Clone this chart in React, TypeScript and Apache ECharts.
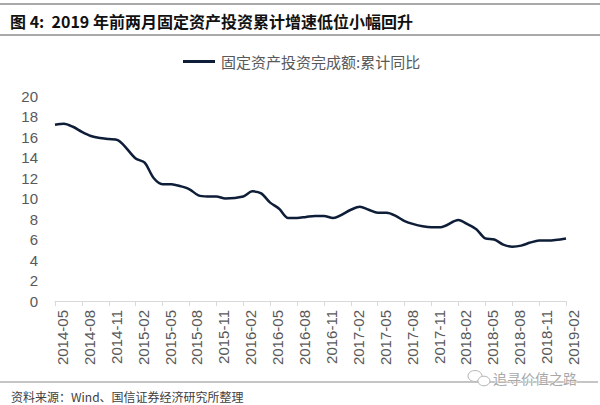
import React, { useEffect, useRef } from "react";
import * as echarts from "echarts";

const TITLE = "图 4:  2019 年前两月固定资产投资累计增速低位小幅回升";
const SERIES_NAME = "固定资产投资完成额:累计同比";
const SOURCE = "资料来源：Wind、国信证券经济研究所整理";
const WATERMARK = "追寻价值之路";

const months = [
  "2014-05", "2014-06", "2014-07", "2014-08", "2014-09", "2014-10", "2014-11", "2014-12",
  "2015-01", "2015-02", "2015-03", "2015-04", "2015-05", "2015-06", "2015-07", "2015-08", "2015-09", "2015-10", "2015-11", "2015-12",
  "2016-01", "2016-02", "2016-03", "2016-04", "2016-05", "2016-06", "2016-07", "2016-08", "2016-09", "2016-10", "2016-11", "2016-12",
  "2017-01", "2017-02", "2017-03", "2017-04", "2017-05", "2017-06", "2017-07", "2017-08", "2017-09", "2017-10", "2017-11", "2017-12",
  "2018-01", "2018-02", "2018-03", "2018-04", "2018-05", "2018-06", "2018-07", "2018-08", "2018-09", "2018-10", "2018-11", "2018-12",
  "2019-01", "2019-02",
];

// January has no separate release (Jan–Feb combined), so it is null
const faiYoY: (number | null)[] = [
  17.2, 17.3, 17.0, 16.5, 16.1, 15.9, 15.8, 15.7,
  null, 13.9, 13.5, 12.0, 11.4, 11.4, 11.2, 10.9, 10.3, 10.2, 10.2, 10.0,
  null, 10.2, 10.7, 10.5, 9.6, 9.0, 8.1, 8.1, 8.2, 8.3, 8.3, 8.1,
  null, 8.9, 9.2, 8.9, 8.6, 8.6, 8.3, 7.8, 7.5, 7.3, 7.2, 7.2,
  null, 7.9, 7.5, 7.0, 6.1, 6.0, 5.5, 5.3, 5.4, 5.7, 5.9, 5.9,
  null, 6.1,
];

const yMin = 0;
const yMax = 20;
const yStep = 2;

const CJK = '"Noto Sans CJK SC", "Liberation Sans", sans-serif';
const LATIN = '"Liberation Sans", Arial, sans-serif';

export default function App() {
  const ref = useRef<HTMLDivElement>(null);

  useEffect(() => {
    if (!ref.current) return;
    const chart = echarts.init(ref.current, undefined, { renderer: "svg" });
    chart.setOption({
      animation: false,
      backgroundColor: "#ffffff",
      grid: { left: 55, right: 34, top: 96, bottom: 104, containLabel: false },
      legend: {
        data: [SERIES_NAME],
        left: 183,
        top: 54,
        padding: 0,
        icon: "rect",
        itemWidth: 32,
        itemHeight: 3,
        itemGap: 10,
        textStyle: { fontFamily: CJK, fontSize: 15, color: "#595959", padding: [0, 0, 0, 1] },
      },
      xAxis: {
        type: "category",
        data: months,
        boundaryGap: false,
        axisLine: { show: true, lineStyle: { color: "#d9d9d9", width: 1 } },
        axisTick: { show: true, interval: 2, length: 5, lineStyle: { color: "#d9d9d9" } },
        axisLabel: {
          interval: 2,
          rotate: 90,
          margin: 9,
          fontFamily: LATIN,
          fontSize: 15,
          color: "#595959",
          verticalAlign: "top",
        },
        splitLine: { show: false },
      },
      yAxis: {
        type: "value",
        min: yMin,
        max: yMax,
        interval: yStep,
        axisLine: { show: false },
        axisTick: { show: false },
        splitLine: { show: false },
        axisLabel: { margin: 17, fontFamily: LATIN, fontSize: 15, color: "#595959" },
      },
      series: [
        {
          name: SERIES_NAME,
          type: "line",
          data: faiYoY,
          connectNulls: true,
          smooth: 0.3,
          showSymbol: false,
          symbol: "none",
          lineStyle: { color: "#0e1d38", width: 2.5 },
          itemStyle: { color: "#0e1d38" },
        },
      ],
      graphic: [
        { type: "line", shape: { x1: 0, y1: 4, x2: 600, y2: 4 }, style: { stroke: "#8c8c8c", lineWidth: 1.5 } },
        {
          type: "text",
          x: 10,
          y: 21,
          style: {
            text: TITLE,
            fontFamily: CJK,
            fontWeight: "bold",
            fontSize: 16,
            fill: "#111111",
            verticalAlign: "middle",
          },
        },
        { type: "line", shape: { x1: 0, y1: 35, x2: 600, y2: 35 }, style: { stroke: "#8c8c8c", lineWidth: 1.5 } },
        { type: "line", shape: { x1: 0, y1: 382, x2: 598, y2: 382 }, style: { stroke: "#8c8c8c", lineWidth: 1.2 } },
        {
          type: "text",
          x: 11,
          y: 396,
          style: {
            text: SOURCE,
            fontFamily: CJK,
            fontSize: 12,
            fill: "#404040",
            verticalAlign: "middle",
          },
        },
        {
          type: "ellipse",
          shape: { cx: 475, cy: 376, rx: 7, ry: 5.5 },
          style: { fill: "#ffffff", stroke: "#b5b5b5", lineWidth: 1 },
        },
        {
          type: "ellipse",
          shape: { cx: 484, cy: 381, rx: 6, ry: 4.8 },
          style: { fill: "#ffffff", stroke: "#b5b5b5", lineWidth: 1 },
        },
        {
          type: "text",
          x: 493,
          y: 378,
          style: {
            text: WATERMARK,
            fontFamily: CJK,
            fontSize: 14,
            fill: "#a8a8a8",
            stroke: "#ffffff",
            lineWidth: 1,
            verticalAlign: "middle",
          },
        },
      ],
    });
    return () => chart.dispose();
  }, []);

  return (
    <div
      ref={ref}
      style={{ position: "fixed", left: 0, top: 0, width: 600, height: 405, background: "#fff" }}
    />
  );
}
